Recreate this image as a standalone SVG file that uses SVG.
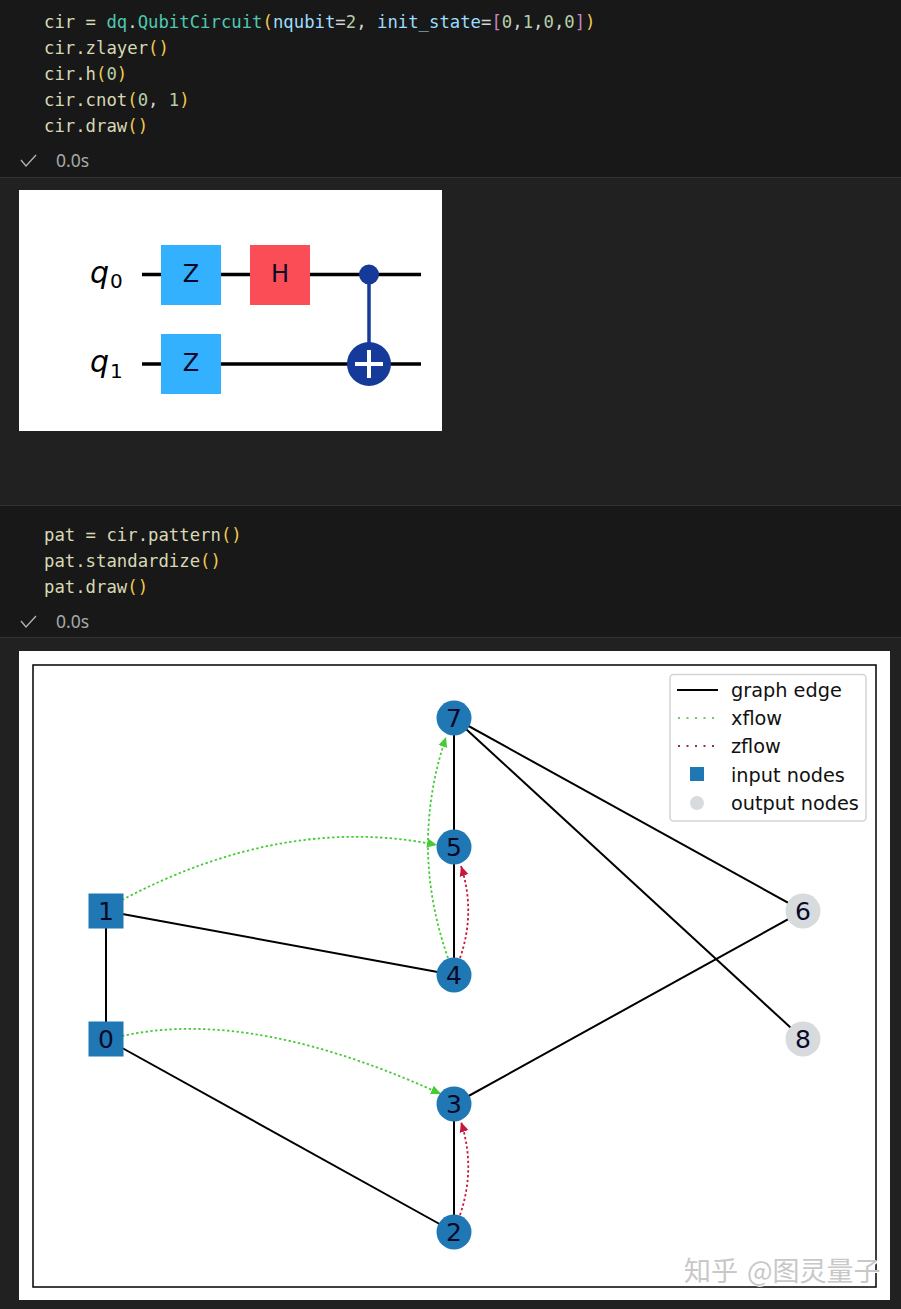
<svg xmlns="http://www.w3.org/2000/svg" width="901" height="1309" viewBox="0 0 901 1309">
<style>
.code{font-family:"DejaVu Sans Mono","Liberation Mono",monospace;font-size:17.3px;fill:#d7d9b4}
.y{fill:#f0c94e}.t{fill:#4ec9b0}.b{fill:#9cdcfe}.n{fill:#b5cea8}.m{fill:#c586c0}.w{fill:#d4d4d4}
.time{font-family:"Noto Sans","Liberation Sans",sans-serif;font-size:17.500px;fill:#a8a8a8}
.check{fill:none;stroke:#b4b4b4;stroke-width:1.3}
.wire{stroke:#000;stroke-width:3.500;fill:none}
.gate{font-family:"DejaVu Sans",sans-serif;font-size:24px;fill:#0a0a28;text-anchor:middle}
.q{font-family:"DejaVu Sans",sans-serif;font-style:italic;font-size:30px;fill:#000}
.sub{font-family:"DejaVu Sans",sans-serif;font-size:20px;fill:#000}
.edge{stroke:#000;stroke-width:2;fill:none}
.xf{stroke:#45cc35;stroke-width:1.800;stroke-dasharray:2.400 2.400;fill:none;marker-end:url(#ax)}
.zf{stroke:#c8173c;stroke-width:1.800;stroke-dasharray:2.400 2.400;fill:none;marker-end:url(#az)}
.nc{fill:#1f77b4}.oc{fill:#d7dbdd}
.lab{font-family:"DejaVu Sans",sans-serif;font-size:25px;fill:#0a0a28;text-anchor:middle}
.leg{font-family:"DejaVu Sans",sans-serif;font-size:19.300px;fill:#111}
.wm{font-family:"Noto Sans CJK SC","Noto Sans",sans-serif;font-size:27px;word-spacing:3px}
</style>
<defs>
<marker id="ax" markerUnits="userSpaceOnUse" markerWidth="13" markerHeight="13" refX="10" refY="6" orient="auto"><path d="M0 1.500 L10 6 L0 10.500 Z" fill="#45cc35"/></marker>
<marker id="az" markerUnits="userSpaceOnUse" markerWidth="13" markerHeight="13" refX="10" refY="6" orient="auto"><path d="M0 1.500 L10 6 L0 10.500 Z" fill="#c8173c"/></marker>
</defs>
<rect width="901" height="1309" fill="#212121"/>
<rect width="901" height="177" fill="#181818"/>
<rect y="177" width="901" height="1" fill="#333"/>
<rect y="505" width="901" height="1" fill="#333"/>
<rect y="506" width="901" height="131" fill="#181818"/>
<rect y="637" width="901" height="1" fill="#333"/>

<g id="code-1">
<text class="code" x="44" y="28">cir = <tspan class="t">dq</tspan><tspan class="w">.</tspan><tspan class="t">QubitCircuit</tspan><tspan class="y">(</tspan><tspan class="b">nqubit</tspan><tspan class="w">=</tspan><tspan class="n">2</tspan><tspan class="w">, </tspan><tspan class="b">init_state</tspan><tspan class="w">=</tspan><tspan class="m">[</tspan><tspan class="n">0</tspan><tspan class="w">,</tspan><tspan class="n">1</tspan><tspan class="w">,</tspan><tspan class="n">0</tspan><tspan class="w">,</tspan><tspan class="n">0</tspan><tspan class="m">]</tspan><tspan class="y">)</tspan></text>
<text class="code" x="44" y="54">cir.zlayer<tspan class="y">()</tspan></text>
<text class="code" x="44" y="80">cir.h<tspan class="y">(</tspan><tspan class="n">0</tspan><tspan class="y">)</tspan></text>
<text class="code" x="44" y="106">cir.cnot<tspan class="y">(</tspan><tspan class="n">0</tspan><tspan class="w">, </tspan><tspan class="n">1</tspan><tspan class="y">)</tspan></text>
<text class="code" x="44" y="132">cir.draw<tspan class="y">()</tspan></text>
<polyline class="check" points="21,160 26,166 36,155"/>
<text class="time" x="56" y="167">0.0s</text>
</g>

<g id="circuit">
<rect x="19" y="190" width="423" height="241" fill="#fff"/>
<g id="wires">
<line class="wire" x1="142" y1="274.500" x2="421" y2="274.500"/>
<line class="wire" x1="142" y1="364" x2="421" y2="364"/>
<line x1="369" y1="274.500" x2="369" y2="364" stroke="#163a99" stroke-width="3.500"/>
</g>
<g id="label-q0"><text class="q" x="90" y="283">q</text><text class="sub" x="110" y="288">0</text></g>
<g id="label-q1"><text class="q" x="90" y="372">q</text><text class="sub" x="110" y="378">1</text></g>
<g id="gate-z0"><rect x="161" y="245" width="60" height="60" fill="#33b1ff"/><text class="gate" x="191" y="282">Z</text></g>
<g id="gate-h"><rect x="250" y="245" width="60" height="60" fill="#fa4d56"/><text class="gate" x="280" y="282">H</text></g>
<g id="gate-z1"><rect x="161" y="334" width="60" height="60" fill="#33b1ff"/><text class="gate" x="191" y="371">Z</text></g>
<g id="cnot-control"><circle cx="369" cy="274.500" r="10" fill="#163a99"/></g>
<g id="cnot-target"><circle cx="369" cy="364" r="22" fill="#163a99"/><path d="M355 364H383M369 350V378" stroke="#fff" stroke-width="4" fill="none"/></g>
</g>

<g id="code-2">
<text class="code" x="44" y="541">pat = cir.pattern<tspan class="y">()</tspan></text>
<text class="code" x="44" y="567">pat.standardize<tspan class="y">()</tspan></text>
<text class="code" x="44" y="593">pat.draw<tspan class="y">()</tspan></text>
<polyline class="check" points="21,621 26,627 36,616"/>
<text class="time" x="56" y="628">0.0s</text>
</g>

<rect x="19" y="651" width="871" height="649" fill="#fff"/>
<rect x="33" y="665" width="843" height="622" fill="none" stroke="#000" stroke-width="1.500"/>

<g id="connectors">
<line class="edge" x1="106" y1="911" x2="106" y2="1039"/>
<line class="edge" x1="106" y1="911" x2="454" y2="975"/>
<line class="edge" x1="106" y1="1039" x2="454" y2="1232"/>
<line class="edge" x1="454" y1="1232" x2="454" y2="1104"/>
<line class="edge" x1="454" y1="1104" x2="803" y2="911"/>
<line class="edge" x1="454" y1="975" x2="454" y2="847"/>
<line class="edge" x1="454" y1="847" x2="454" y2="718"/>
<line class="edge" x1="454" y1="718" x2="803" y2="911"/>
<line class="edge" x1="454" y1="718" x2="803" y2="1039"/>
<path class="xf" d="M122 900Q285 814 437 845"/>
<path class="xf" d="M122 1036C190 1021 290 1025 441 1094"/>
<path class="xf" d="M448 958Q409 847 446 737"/>
<path class="zf" d="M460 958Q476 912 461 866"/>
<path class="zf" d="M460 1215Q476 1168 461 1122"/>
</g>

<g id="node-0"><rect class="nc" x="88.500" y="1021.500" width="35" height="35"/><text class="lab" x="106" y="1048">0</text></g>
<g id="node-1"><rect class="nc" x="88.500" y="893.500" width="35" height="35"/><text class="lab" x="106" y="920">1</text></g>
<g id="node-2"><circle class="nc" cx="454" cy="1232" r="17.500"/><text class="lab" x="454" y="1241">2</text></g>
<g id="node-3"><circle class="nc" cx="454" cy="1104" r="17.500"/><text class="lab" x="454" y="1113">3</text></g>
<g id="node-4"><circle class="nc" cx="454" cy="975" r="17.500"/><text class="lab" x="454" y="984">4</text></g>
<g id="node-5"><circle class="nc" cx="454" cy="847" r="17.500"/><text class="lab" x="454" y="856">5</text></g>
<g id="node-6"><circle class="oc" cx="803" cy="911" r="17.500"/><text class="lab" x="803" y="920">6</text></g>
<g id="node-7"><circle class="nc" cx="454" cy="718" r="17.500"/><text class="lab" x="454" y="727">7</text></g>
<g id="node-8"><circle class="oc" cx="803" cy="1039" r="17.500"/><text class="lab" x="803" y="1048">8</text></g>

<g id="legend">
<rect x="670" y="674.500" width="196" height="146.500" rx="3.500" fill="#fff" fill-opacity=".85" stroke="#d4d4d4" stroke-width="1.500"/>
<line x1="677" y1="690" x2="718" y2="690" stroke="#000" stroke-width="2.200"/>
<line x1="678" y1="718" x2="718" y2="718" stroke="#72cb5e" stroke-width="2" stroke-dasharray="2 6.500"/>
<line x1="678" y1="746" x2="718" y2="746" stroke="#9a2c50" stroke-width="2" stroke-dasharray="2 6.500"/>
<rect class="nc" x="690" y="767" width="14" height="14"/>
<circle class="oc" cx="697" cy="803" r="7"/>
<text class="leg" x="731" y="697">graph edge</text>
<text class="leg" x="731" y="725">xflow</text>
<text class="leg" x="731" y="753">zflow</text>
<text class="leg" x="731" y="782">input nodes</text>
<text class="leg" x="731" y="810">output nodes</text>
</g>

<g id="watermark">
<text class="wm" x="685" y="1282" fill="#fff">知乎 @图灵量子</text>
<text class="wm" x="684" y="1281" fill="#c8c8c8">知乎 @图灵量子</text>
</g>
</svg>
